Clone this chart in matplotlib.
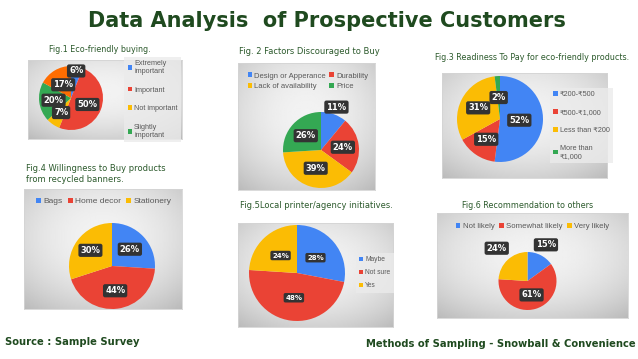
import numpy as np
import matplotlib.pyplot as plt

# ---- data ----
fig1_labels = ['Extremely\nimportant', 'Important', 'Not important', 'Slightly\nimportant', 'Other']
fig1_values = [6, 50, 7, 20, 17]

fig2_labels = ['Design or Apperance', 'Durability', 'Lack of availability', 'Price']
fig2_values = [11, 24, 39, 26]

fig3_labels = ['₹200-₹500', '₹500-₹1,000', 'Less than ₹200', 'More than\n₹1,000']
fig3_values = [52, 15, 31, 2]

fig4_labels = ['Bags', 'Home decor', 'Stationery']
fig4_values = [26, 44, 30]

fig5_labels = ['Maybe', 'Not sure', 'Yes']
fig5_values = [28, 48, 24]

fig6_labels = ['Not likely', 'Somewhat likely', 'Very likely']
fig6_values = [15, 61, 24]

BLUE, RED, YEL, GRN, ORG = '#4285F4', '#EA4335', '#FBBC04', '#34A853', '#FF6D01'
TITLE_GREEN = '#1f4a1f'
FIG_GREEN = '#2c5a2c'
LEG_FONT = ['Liberation Sans', 'DejaVu Sans']

W, H = 638, 359
fig = plt.figure(figsize=(W / 100, H / 100), dpi=100)
fig.patch.set_facecolor('white')


def box_axes(x, y, w, h):
    ax = fig.add_axes([x / W, 1 - (y + h) / H, w / W, h / H])
    yy, xx = np.mgrid[1:-1:120j, -1:1:120j]
    g = 0.95 - 0.09 * (xx ** 2 + (yy - 0.2) ** 2)
    ax.imshow(g, cmap='gray', vmin=0, vmax=1, extent=(0, w, 0, h),
              aspect='auto', zorder=0, interpolation='bilinear')
    ax.set_xticks([])
    ax.set_yticks([])
    for s in ax.spines.values():
        s.set_color('#d4d4d4')
        s.set_linewidth(0.6)
    return ax, w, h


def draw_pie(ax, w, h, values, colors, cx, cy, r, dists, fs=6):
    wedges, _ = ax.pie(values, colors=colors, startangle=90, counterclock=False,
                       center=(cx, cy), radius=r, frame=True,
                       wedgeprops=dict(linewidth=0))
    ax.set_xlim(0, w)
    ax.set_ylim(0, h)
    ax.set_aspect('auto')
    ax.set_xticks([])
    ax.set_yticks([])
    for wd, v, d in zip(wedges, values, dists):
        th = np.deg2rad((wd.theta1 + wd.theta2) / 2)
        ax.text(cx + d * r * np.cos(th), cy + d * r * np.sin(th), f'{v}%',
                ha='center', va='center', color='white', fontsize=fs,
                fontweight='bold', zorder=5,
                bbox=dict(boxstyle='round,pad=0.25', fc='#333333', ec='none'))
    return wedges


def side_legend(ax, handles, labels, anchor, fs=5.2, spacing=1.6):
    leg = ax.legend(handles, labels, loc='center left', bbox_to_anchor=anchor,
                    frameon=True, fancybox=False, labelspacing=spacing,
                    handlelength=0.6, handleheight=0.6, handletextpad=0.3,
                    borderpad=0.5, prop={'family': LEG_FONT, 'size': fs})
    leg.get_frame().set_facecolor('#ebebeb')
    leg.get_frame().set_edgecolor('none')
    for t in leg.get_texts():
        t.set_color('#595959')
    return leg


def top_legend(ax, handles, labels, ncol, anchor, loc, fs=6, colsp=0.6):
    leg = ax.legend(handles, labels, loc=loc, bbox_to_anchor=anchor, ncol=ncol,
                    frameon=False, columnspacing=colsp, labelspacing=0.5,
                    handlelength=0.6, handleheight=0.6, handletextpad=0.3,
                    prop={'family': LEG_FONT, 'size': fs})
    for t in leg.get_texts():
        t.set_color('#595959')
    return leg


def ftext(x, y, s, **kw):
    fig.text(x / W, 1 - y / H, s, **kw)


# main title
ftext(327, 21, 'Data Analysis  of Prospective Customers', ha='center', va='center',
      fontsize=15, fontweight='heavy', color=TITLE_GREEN)

# Fig.1
ftext(100, 50, 'Fig.1 Eco-friendly buying.', ha='center', va='center',
      fontsize=5.8, color=FIG_GREEN)
ax, w, h = box_axes(28, 60, 154, 79)
wd = draw_pie(ax, w, h, fig1_values, [BLUE, RED, YEL, GRN, ORG], 43, 41, 32,
              [0.86, 0.55, 0.55, 0.55, 0.48])
side_legend(ax, wd[:4], fig1_labels[:4], (0.6, 0.5))

# Fig.2 (legend filled row by row)
ftext(239, 52, 'Fig. 2 Factors Discouraged to Buy', ha='left', va='center',
      fontsize=6, color=FIG_GREEN)
ax, w, h = box_axes(238, 63, 137, 127)
wd = draw_pie(ax, w, h, fig2_values, [BLUE, RED, YEL, GRN], 83, 40, 38,
              [1.2, 0.58, 0.5, 0.55])
order = [0, 2, 1, 3]
top_legend(ax, [wd[i] for i in order], [fig2_labels[i] for i in order], 2,
           (0.02, 0.98), 'upper left', fs=5.5, colsp=0.4)

# Fig.3
ftext(532, 57, 'Fig.3 Readiness To Pay for eco-friendly products.', ha='center',
      va='center', fontsize=5.8, color=FIG_GREEN)
ax, w, h = box_axes(442, 73, 165, 105)
wd = draw_pie(ax, w, h, fig3_values, [BLUE, RED, YEL, GRN], 58, 59, 43,
              [0.45, 0.57, 0.57, 0.5])
side_legend(ax, wd, fig3_labels, (0.63, 0.5), spacing=1.5)

# Fig.4
ftext(26, 174, 'Fig.4 Willingness to Buy products\nfrom recycled banners.', ha='left',
      va='center', fontsize=6, color=FIG_GREEN, linespacing=1.2)
ax, w, h = box_axes(24, 189, 158, 120)
wd = draw_pie(ax, w, h, fig4_values, [BLUE, RED, YEL], 88, 43, 43,
              [0.57, 0.58, 0.62])
top_legend(ax, wd, fig4_labels, 3, (0.03, 0.99), 'upper left')

# Fig.5
ftext(240, 205, 'Fig.5Local printer/agency initiatives.', ha='left', va='center',
      fontsize=6, color=FIG_GREEN)
ax, w, h = box_axes(238, 223, 155, 104)
wd = draw_pie(ax, w, h, fig5_values, [BLUE, RED, YEL], 59, 54, 48,
              [0.5, 0.52, 0.5], fs=5)
side_legend(ax, wd, fig5_labels, (0.74, 0.52), fs=4.8, spacing=0.9)

# Fig.6
ftext(528, 206, 'Fig.6 Recommendation to others', ha='center', va='center',
      fontsize=5.8, color=FIG_GREEN)
ax, w, h = box_axes(437, 213, 191, 105)
wd = draw_pie(ax, w, h, fig6_values, [BLUE, RED, YEL], 90.5, 37, 29,
              [1.4, 0.5, 1.55])
top_legend(ax, wd, fig6_labels, 3, (0.5, 0.97), 'upper center', fs=5.6)

# footer
ftext(5, 342, 'Source : Sample Survey', ha='left', va='center', fontsize=7.2,
      fontweight='bold', color=TITLE_GREEN)
ftext(636, 344, 'Methods of Sampling - Snowball & Convenience', ha='right',
      va='center', fontsize=7.2, fontweight='bold', color=TITLE_GREEN)

fig.savefig('out.png', dpi=100)
